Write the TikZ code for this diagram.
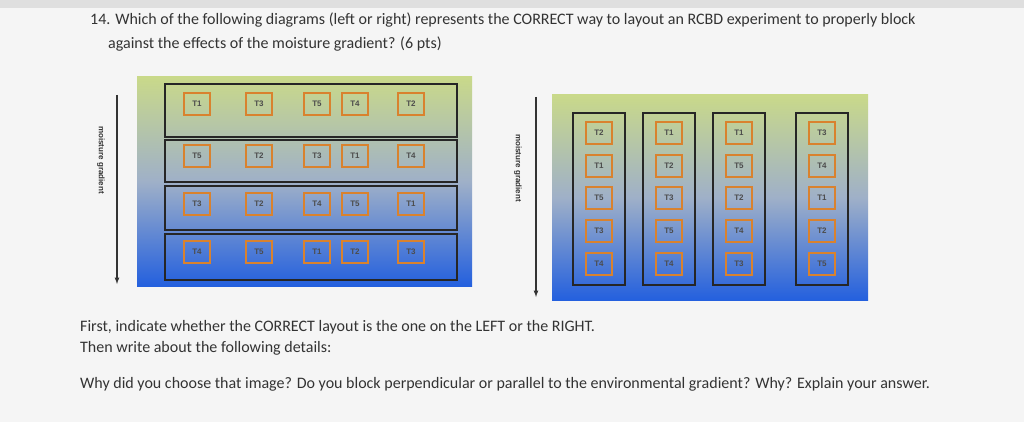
\documentclass[tikz,border=0pt]{standalone}
\usepackage{fontspec}
\setmainfont{Carlito}
\setsansfont{Liberation Sans}
\definecolor{topc}{HTML}{C9D98A}
\definecolor{midc}{HTML}{9FB0C8}
\definecolor{botc}{HTML}{2460DE}
\definecolor{orb}{HTML}{D9822E}
\begin{document}
\begin{tikzpicture}[x=1pt,y=-1pt,
  bg/.style={top color=topc, bottom color=botc, middle color=midc, draw=none},
  blk/.style={draw=black!85, line width=1.6pt},
  trt/.style={draw=orb, line width=2.2pt, minimum width=26pt, minimum height=22pt, inner sep=0pt, font=\sffamily\bfseries\footnotesize, text=black!70},
  lab/.style={font=\sffamily\bfseries\footnotesize, rotate=-90, text=black!80},
  txt/.style={anchor=west, font=\fontsize{16}{18}\selectfont, text=black!80, inner sep=0pt}]
\fill[gray!8] (0,0) rectangle (1024,422);
\fill[gray!25] (0,0) rectangle (1024,8);
\node[txt] (q1) at (90,20) {14. Which of the following diagrams (left or right) represents the CORRECT way to layout an RCBD experiment to properly block};
\node[txt] (q2) at (108,44) {against the effects of the moisture gradient? (6 pts)};
% left
\shade[bg] (137,77) rectangle (472,286);
\draw[blk] (165,84) rectangle (457,137);
\draw[blk] (165,140) rectangle (457,182);
\draw[blk] (165,186) rectangle (457,230);
\draw[blk] (165,234) rectangle (457,280);
\foreach \y/\a/\b/\c/\d/\e in {104/T1/T3/T5/T4/T2, 156/T5/T2/T3/T1/T4, 204/T3/T2/T4/T5/T1, 252/T4/T5/T1/T2/T3}{
  \node[trt] (l\y a) at (197,\y) {\a};
  \node[trt] (l\y b) at (259,\y) {\b};
  \node[trt] (l\y c) at (317,\y) {\c};
  \node[trt] (l\y d) at (355,\y) {\d};
  \node[trt] (l\y e) at (411,\y) {\e};
}
\coordinate (la1) at (117,95); \coordinate (la2) at (117,284);
\draw[black!80, line width=1.2pt, -latex] (la1) -- (la2);
\node[lab] (ll) at (101,160) {moisture gradient};
% right
\shade[bg] (552,95) rectangle (868,300);
\foreach \x in {573,643,713,796}{\draw[blk] (\x,113) rectangle (\x+52,285);}
\foreach \x/\a/\b/\c/\d/\e in {599/T2/T1/T5/T3/T4, 669/T1/T2/T3/T5/T4, 739/T1/T5/T2/T4/T3, 822/T3/T4/T1/T2/T5}{
  \node[trt] (r\x a) at (\x,133) {\a};
  \node[trt] (r\x b) at (\x,166) {\b};
  \node[trt] (r\x c) at (\x,198) {\c};
  \node[trt] (r\x d) at (\x,231) {\d};
  \node[trt] (r\x e) at (\x,264) {\e};
}
\coordinate (ra1) at (536,97); \coordinate (ra2) at (536,297);
\draw[black!80, line width=1.2pt, -latex] (ra1) -- (ra2);
\node[lab] (rl) at (518,168) {moisture gradient};
\node[txt] (t1) at (80,327) {First, indicate whether the CORRECT layout is the one on the LEFT or the RIGHT.};
\node[txt] (t2) at (80,348) {Then write about the following details:};
\node[txt] (t3) at (80,384) {Why did you choose that image? Do you block perpendicular or parallel to the environmental gradient? Why? Explain your answer.};
\end{tikzpicture}
\end{document}
